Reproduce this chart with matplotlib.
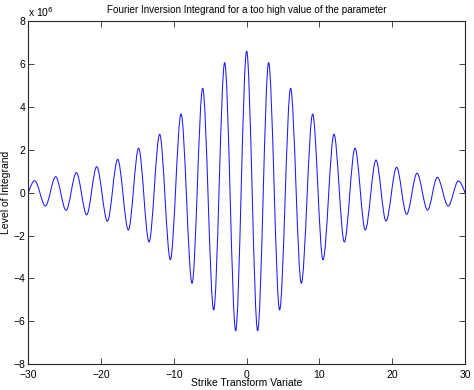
"""MATLAB-style plot of the oscillating Fourier inversion integrand."""
import matplotlib

matplotlib.use("Agg")
import matplotlib.pyplot as plt
from matplotlib.patches import PathPatch
from matplotlib.path import Path

plt.rcParams["font.family"] = ["Liberation Sans", "DejaVu Sans"]

# turning points of the curve (x, level in units of 1e6)
ext_x = [-30.0, -29.12, -27.65, -26.24, -24.81, -23.39, -21.98, -20.60, -19.13, -17.72,
         -16.25, -14.84, -13.41, -11.95, -10.48, -9.01, -7.50, -6.04, -4.53, -3.02,
         -1.51, 0.0, 1.51, 3.02, 4.53, 6.04, 7.51, 9.07, 10.49, 12.00,
         13.42, 14.89, 16.30, 17.77, 19.15, 20.60, 21.98, 23.41, 24.86, 26.19,
         27.70, 29.08, 30.0]
ext_y = [0.0, 0.56, -0.62, 0.75, -0.82, 0.94, -1.03, 1.22, -1.33, 1.56,
         -1.74, 2.08, -2.30, 2.73, -3.13, 3.68, -4.23, 4.88, -5.48, 6.08,
         -6.45, 6.62, -6.45, 6.08, -5.48, 4.88, -4.23, 3.68, -3.13, 2.73,
         -2.30, 2.08, -1.74, 1.53, -1.32, 1.19, -1.01, 0.91, -0.81, 0.72,
         -0.62, 0.55, 0.0]

x_ticks = [-30, -20, -10, 0, 10, 20, 30]
y_ticks = [-8, -6, -4, -2, 0, 2, 4, 6, 8]

C_LINE = "#1a1aff"; C_AX = "#262626"


def smooth_path(xs, ys):
    """Cubic Bezier segments with flat tangents at the turning points."""
    verts = [(xs[0], ys[0])]
    codes = [Path.MOVETO]
    n = len(xs)
    for i in range(n - 1):
        x0, y0, x1, y1 = xs[i], ys[i], xs[i + 1], ys[i + 1]
        dx = x1 - x0
        if i == 0:  # start point sits mid-slope
            c1 = (x0 + dx / 3, y0 + (y1 - y0) * 0.52)
        else:
            c1 = (x0 + dx / 3, y0)
        if i == n - 2:  # end point sits mid-slope
            c2 = (x1 - dx / 3, y1 + (y0 - y1) * 0.52)
        else:
            c2 = (x1 - dx / 3, y1)
        verts += [c1, c2, (x1, y1)]
        codes += [Path.CURVE4] * 3
    return Path(verts, codes)


fig = plt.figure(figsize=(4.74, 3.90), dpi=100)
ax = fig.add_axes([0.0597, 0.0667, 0.9213, 0.8782])
ax.add_patch(PathPatch(smooth_path(ext_x, ext_y), fill=False, edgecolor=C_LINE, lw=0.75))

ax.set_xlim(-30, 30); ax.set_ylim(-8, 8)
ax.set_xticks(x_ticks); ax.set_yticks(y_ticks)
ax.tick_params(direction="in", top=True, right=True, length=4, width=0.6,
               labelsize=7.5, color=C_AX)
ax.tick_params(axis="x", pad=4)
ax.tick_params(axis="y", pad=2)
for s in ax.spines.values():
    s.set_linewidth(0.8); s.set_color(C_AX)

ax.set_title("Fourier Inversion Integrand for a too high value of the parameter",
             fontsize=7.1, pad=6)
ax.set_xlabel("Strike Transform Variate", fontsize=7.5, labelpad=-1)
ax.set_ylabel("Level of Integrand", fontsize=7.5, labelpad=2)
ax.text(0.0, 1.008, r"x 10$^{6}$", transform=ax.transAxes, fontsize=7.5,
        ha="left", va="bottom")

fig.savefig("out.png", dpi=100)
